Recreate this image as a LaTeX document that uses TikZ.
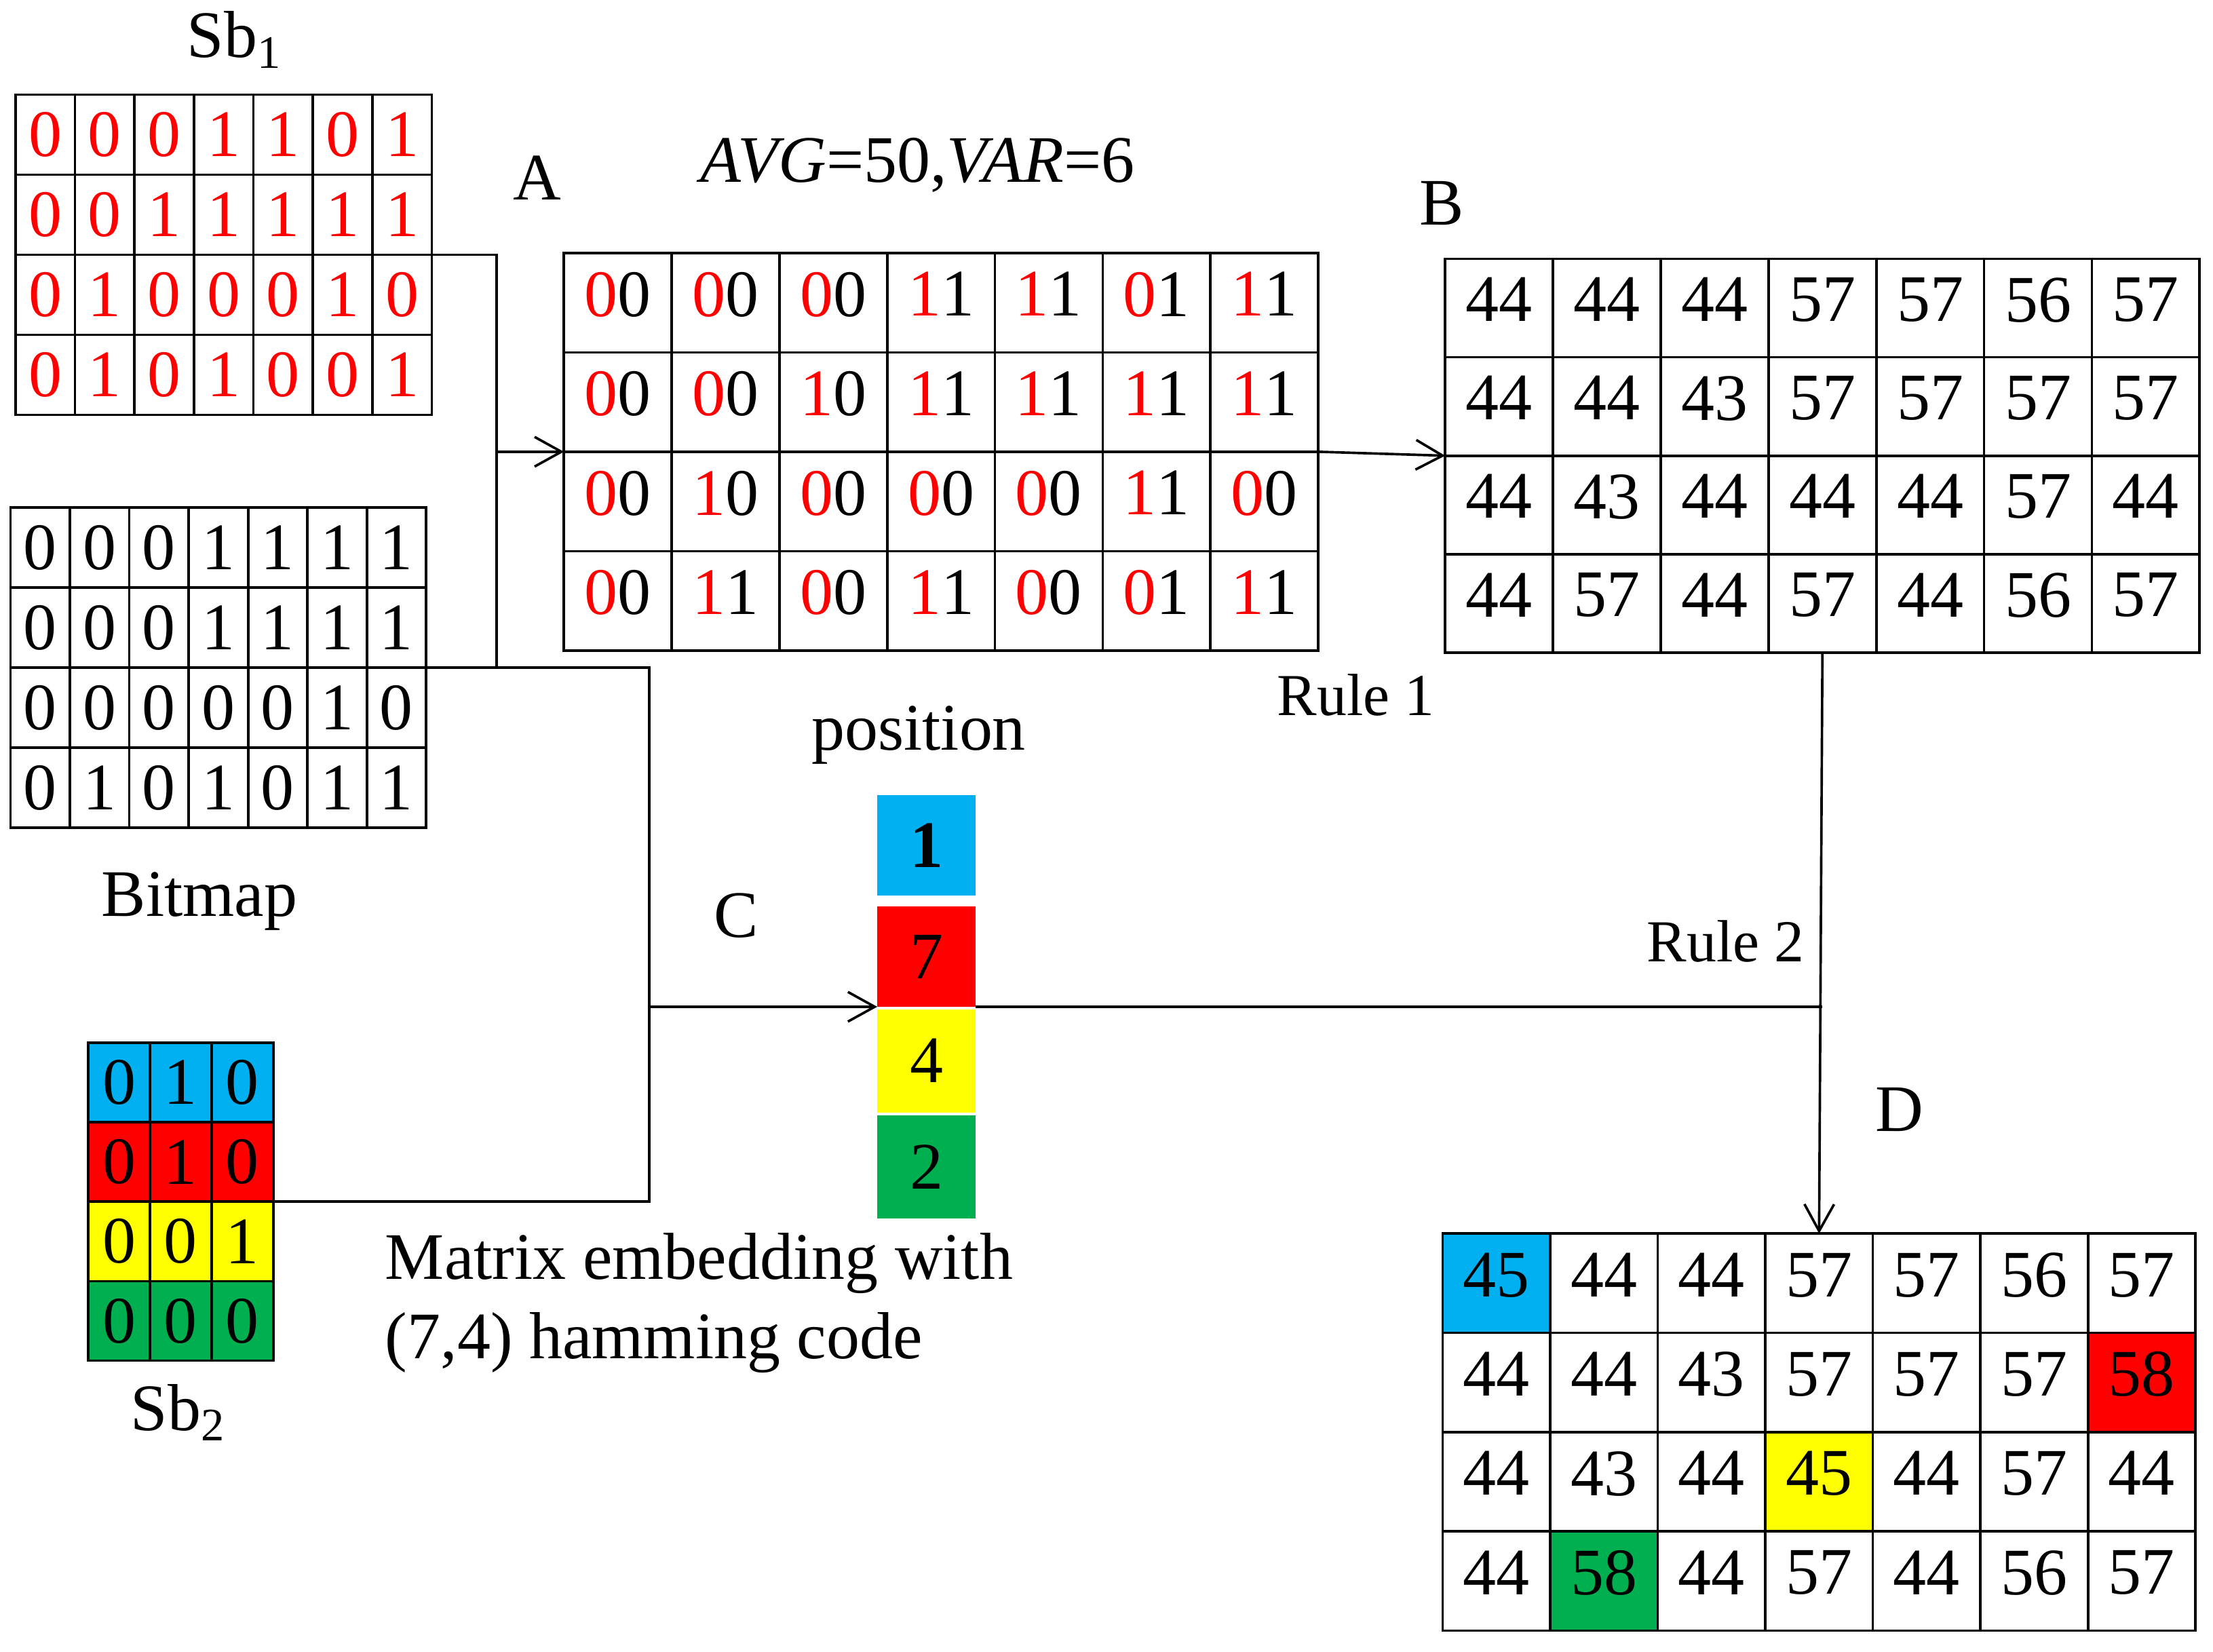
\documentclass[tikz,border=0pt]{standalone}
\usepackage{fontspec}
\setmainfont{Liberation Serif}
\usetikzlibrary{arrows.meta,backgrounds}
\definecolor{cblue}{RGB}{0,176,240}
\definecolor{cred}{RGB}{255,0,0}
\definecolor{cyellow}{RGB}{255,255,0}
\definecolor{cgreen}{RGB}{0,176,80}
\newcommand{\ab}[2]{\textcolor{cred}{#1}#2}
% #1 name, #2 x0, #3 y0, #4 cell w, #5 cell h, #6 ncols, #7 style, #8 values
\newcommand{\mygrid}[8]{%
  \foreach \v [count=\i from 0] in {#8}{%
    \pgfmathtruncatemacro{\rr}{div(\i,#6)+1}%
    \pgfmathtruncatemacro{\cc}{mod(\i,#6)+1}%
    \node[gridcell,#7,minimum width=#4*0.1mm,minimum height=#5*0.1mm]
      (#1-\rr-\cc) at ({#2+(\cc-0.5)*#4},{#3+(\rr-0.5)*#5}) {\v};
  }%
}
\begin{document}
\begin{tikzpicture}[x=0.1mm,y=-0.1mm,
  font=\fontsize{13.4}{16}\selectfont,
  gridcell/.style={draw,line width=0.5pt,inner sep=0pt,outer sep=0pt},
  big/.style={text depth=1.2mm},
  redtext/.style={text=cred},
  lbl/.style={anchor=base west,inner sep=0pt,outer sep=0pt},
  rulelbl/.style={lbl,font=\fontsize{12}{14}\selectfont},
  conn/.style={line width=0.5pt},
  arr/.style={conn,-{Straight Barb[length=1.9mm,width=2.1mm]}},
  posbox/.style={inner sep=0pt,outer sep=0pt,minimum width=6.98mm}
]
\useasboundingbox (0,0) rectangle (1568,1170);

% ---- Sb1 ----
\mygrid{sb1}{11}{67}{42.14}{56.75}{7}{redtext}{0,0,0,1,1,0,1, 0,0,1,1,1,1,1, 0,1,0,0,0,1,0, 0,1,0,1,0,0,1}
\node[lbl] (sb1lbl) at (132.5,40.8) {Sb\textsubscript{1}};

% ---- Bitmap ----
\mygrid{bm}{7.5}{359.5}{42.07}{56.75}{7}{}{0,0,0,1,1,1,1, 0,0,0,1,1,1,1, 0,0,0,0,0,1,0, 0,1,0,1,0,1,1}
\node[lbl] (bmlbl) at (72,649) {Bitmap};

% ---- A ----
\mygrid{A}{399.6}{179.2}{76.34}{70.43}{7}{big}{\ab00,\ab00,\ab00,\ab11,\ab11,\ab01,\ab11, \ab00,\ab00,\ab10,\ab11,\ab11,\ab11,\ab11, \ab00,\ab10,\ab00,\ab00,\ab00,\ab11,\ab00, \ab00,\ab11,\ab00,\ab11,\ab00,\ab01,\ab11}
\node[lbl] (Albl) at (363.7,141.6) {A};
\node[lbl] (avg) at (496.3,128.9) {\textit{AVG}=50,\textit{VAR}=6};

% ---- B ----
\mygrid{B}{1024}{183.4}{76.36}{69.73}{7}{big}{44,44,44,57,57,56,57, 44,44,43,57,57,57,57, 44,43,44,44,44,57,44, 44,57,44,57,44,56,57}
\node[lbl] (Blbl) at (1005.8,159.4) {B};
\node[rulelbl] (rule1) at (905,507) {Rule 1};

% ---- Sb2 ----
\mygrid{sb2}{62.5}{738.8}{43.73}{56.3}{3}{}{0,1,0, 0,1,0, 0,0,1, 0,0,0}
\node[lbl] (sb2lbl) at (92.7,1013.3) {Sb\textsubscript{2}};
\begin{scope}[on background layer]
  \fill[cblue]   (sb2-1-1.north west) rectangle (sb2-1-3.south east);
  \fill[cred]    (sb2-2-1.north west) rectangle (sb2-2-3.south east);
  \fill[cyellow] (sb2-3-1.north west) rectangle (sb2-3-3.south east);
  \fill[cgreen]  (sb2-4-1.north west) rectangle (sb2-4-3.south east);
\end{scope}

% ---- position ----
\node[lbl] (poslbl) at (575,531.5) {position};
\node[posbox,fill=cblue,minimum height=7.09mm] (pos1) at (656.5,598.95) {\textbf{1}};
\node[posbox,fill=cred,minimum height=7.11mm] (pos2) at (656.5,677.75) {7};
\node[posbox,fill=cyellow,minimum height=7.3mm] (pos3) at (656.5,751.6) {4};
\node[posbox,fill=cgreen,minimum height=7.29mm] (pos4) at (656.5,826.65) {2};
\node[lbl] (Clbl) at (506,664) {C};
\node[lbl,align=left,anchor=north west] (matrixlbl) at (273,873.5)
  {Matrix embedding with\\(7,4) hamming code};

% ---- D ----
\mygrid{D}{1022.2}{874}{76.2}{70.33}{7}{big}{45,44,44,57,57,56,57, 44,44,43,57,57,57,58, 44,43,44,45,44,57,44, 44,58,44,57,44,56,57}
\begin{scope}[on background layer]
  \fill[cblue]   (D-1-1.north west) rectangle (D-1-1.south east);
  \fill[cred]    (D-2-7.north west) rectangle (D-2-7.south east);
  \fill[cyellow] (D-3-4.north west) rectangle (D-3-4.south east);
  \fill[cgreen]  (D-4-2.north west) rectangle (D-4-2.south east);
\end{scope}
\node[lbl] (Dlbl) at (1329,801.4) {D};
\node[rulelbl] (rule2) at (1167,681.3) {Rule 2};

% ---- connectors ----
\path (A-2-1.south west) ++(-47.6,0) coordinate (jA);
\path (pos2.south west) ++(-161.6,0) coordinate (jC);
\path (pos2.south east -| B-4-4.south) coordinate (jD);

\draw[arr] (sb1-2-7.south east) -| (jA) -- (A-2-1.south west);
\draw[conn] (bm-2-7.south east) -| (jA);
\draw[conn] (bm-2-7.south east) -| (jC);
\draw[conn] (sb2-2-3.south east) -| (jC);
\draw[arr] (jC) -- (pos2.south west);
\draw[arr] (A-2-7.south east) -- (B-2-1.south west);
\draw[conn] (pos2.south east) -- (jD);
\draw[arr] (B-4-4.south) -- (D-1-4.north);
\end{tikzpicture}
\end{document}
